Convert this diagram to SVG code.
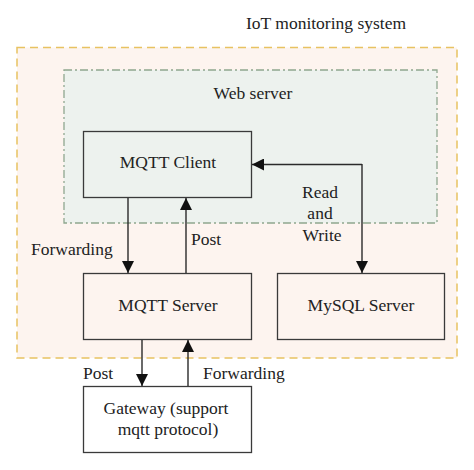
<svg xmlns="http://www.w3.org/2000/svg" width="474" height="470" viewBox="0 0 474 470">
<defs>
<style>
text{font-family:"Liberation Serif","Times New Roman",serif;font-size:17.5px;fill:#222;}
.box{fill:none;stroke:#3a3a3a;stroke-width:1.3;}
.line{stroke:#2a2a2a;stroke-width:1.4;fill:none;}
</style>
<marker id="ah" viewBox="0 0 12 12" refX="12" refY="6" markerWidth="12" markerHeight="12" markerUnits="userSpaceOnUse" orient="auto">
<path d="M0,0 L12,6 L0,12 Z" fill="#111"/>
</marker>
</defs>
<rect width="474" height="470" fill="#ffffff"/>
<g id="iot-system">
<rect x="17" y="47.5" width="440" height="310.5" fill="#fdf4ef" stroke="#e8c262" stroke-width="1.5" stroke-dasharray="8,5"/>
<text x="326" y="29" text-anchor="middle">IoT monitoring system</text>
</g>
<g id="web-server">
<rect x="64" y="70" width="373" height="153" fill="#edf2ee" stroke="#8fa78f" stroke-width="1.3" stroke-dasharray="8,3,2,3"/>
<text x="253" y="99" text-anchor="middle">Web server</text>
</g>
<g id="mqtt-client">
<rect class="box" x="83.5" y="131.5" width="168" height="66"/>
<text x="168" y="168" text-anchor="middle">MQTT Client</text>
</g>
<g id="mqtt-server">
<rect class="box" x="83.5" y="273.5" width="168" height="66"/>
<text x="168" y="311" text-anchor="middle">MQTT Server</text>
</g>
<g id="mysql-server">
<rect class="box" x="277.5" y="273.5" width="167" height="66"/>
<text x="361" y="311" text-anchor="middle">MySQL Server</text>
</g>
<g id="gateway">
<rect class="box" x="83.5" y="386.5" width="168" height="66" fill="#ffffff"/>
<text x="166" y="414" text-anchor="middle">Gateway (support</text>
<text x="168" y="435" text-anchor="middle">mqtt protocol)</text>
</g>
<g id="connectors">
<line class="line" x1="128" y1="198" x2="128" y2="273" marker-end="url(#ah)"/>
<line class="line" x1="186" y1="273" x2="186" y2="198" marker-end="url(#ah)"/>
<polyline class="line" points="362,164 362,273" marker-end="url(#ah)"/>
<polyline class="line" points="362,164.5 252,164.5" marker-end="url(#ah)"/>
<line class="line" x1="142" y1="340" x2="142" y2="386" marker-end="url(#ah)"/>
<line class="line" x1="188" y1="386" x2="188" y2="340" marker-end="url(#ah)"/>
<text x="31" y="255">Forwarding</text>
<text x="191" y="245">Post</text>
<text x="320" y="198" text-anchor="middle">Read</text>
<text x="320" y="219" text-anchor="middle">and</text>
<text x="322" y="241" text-anchor="middle">Write</text>
<text x="83" y="379">Post</text>
<text x="203" y="379">Forwarding</text>
</g>
</svg>
